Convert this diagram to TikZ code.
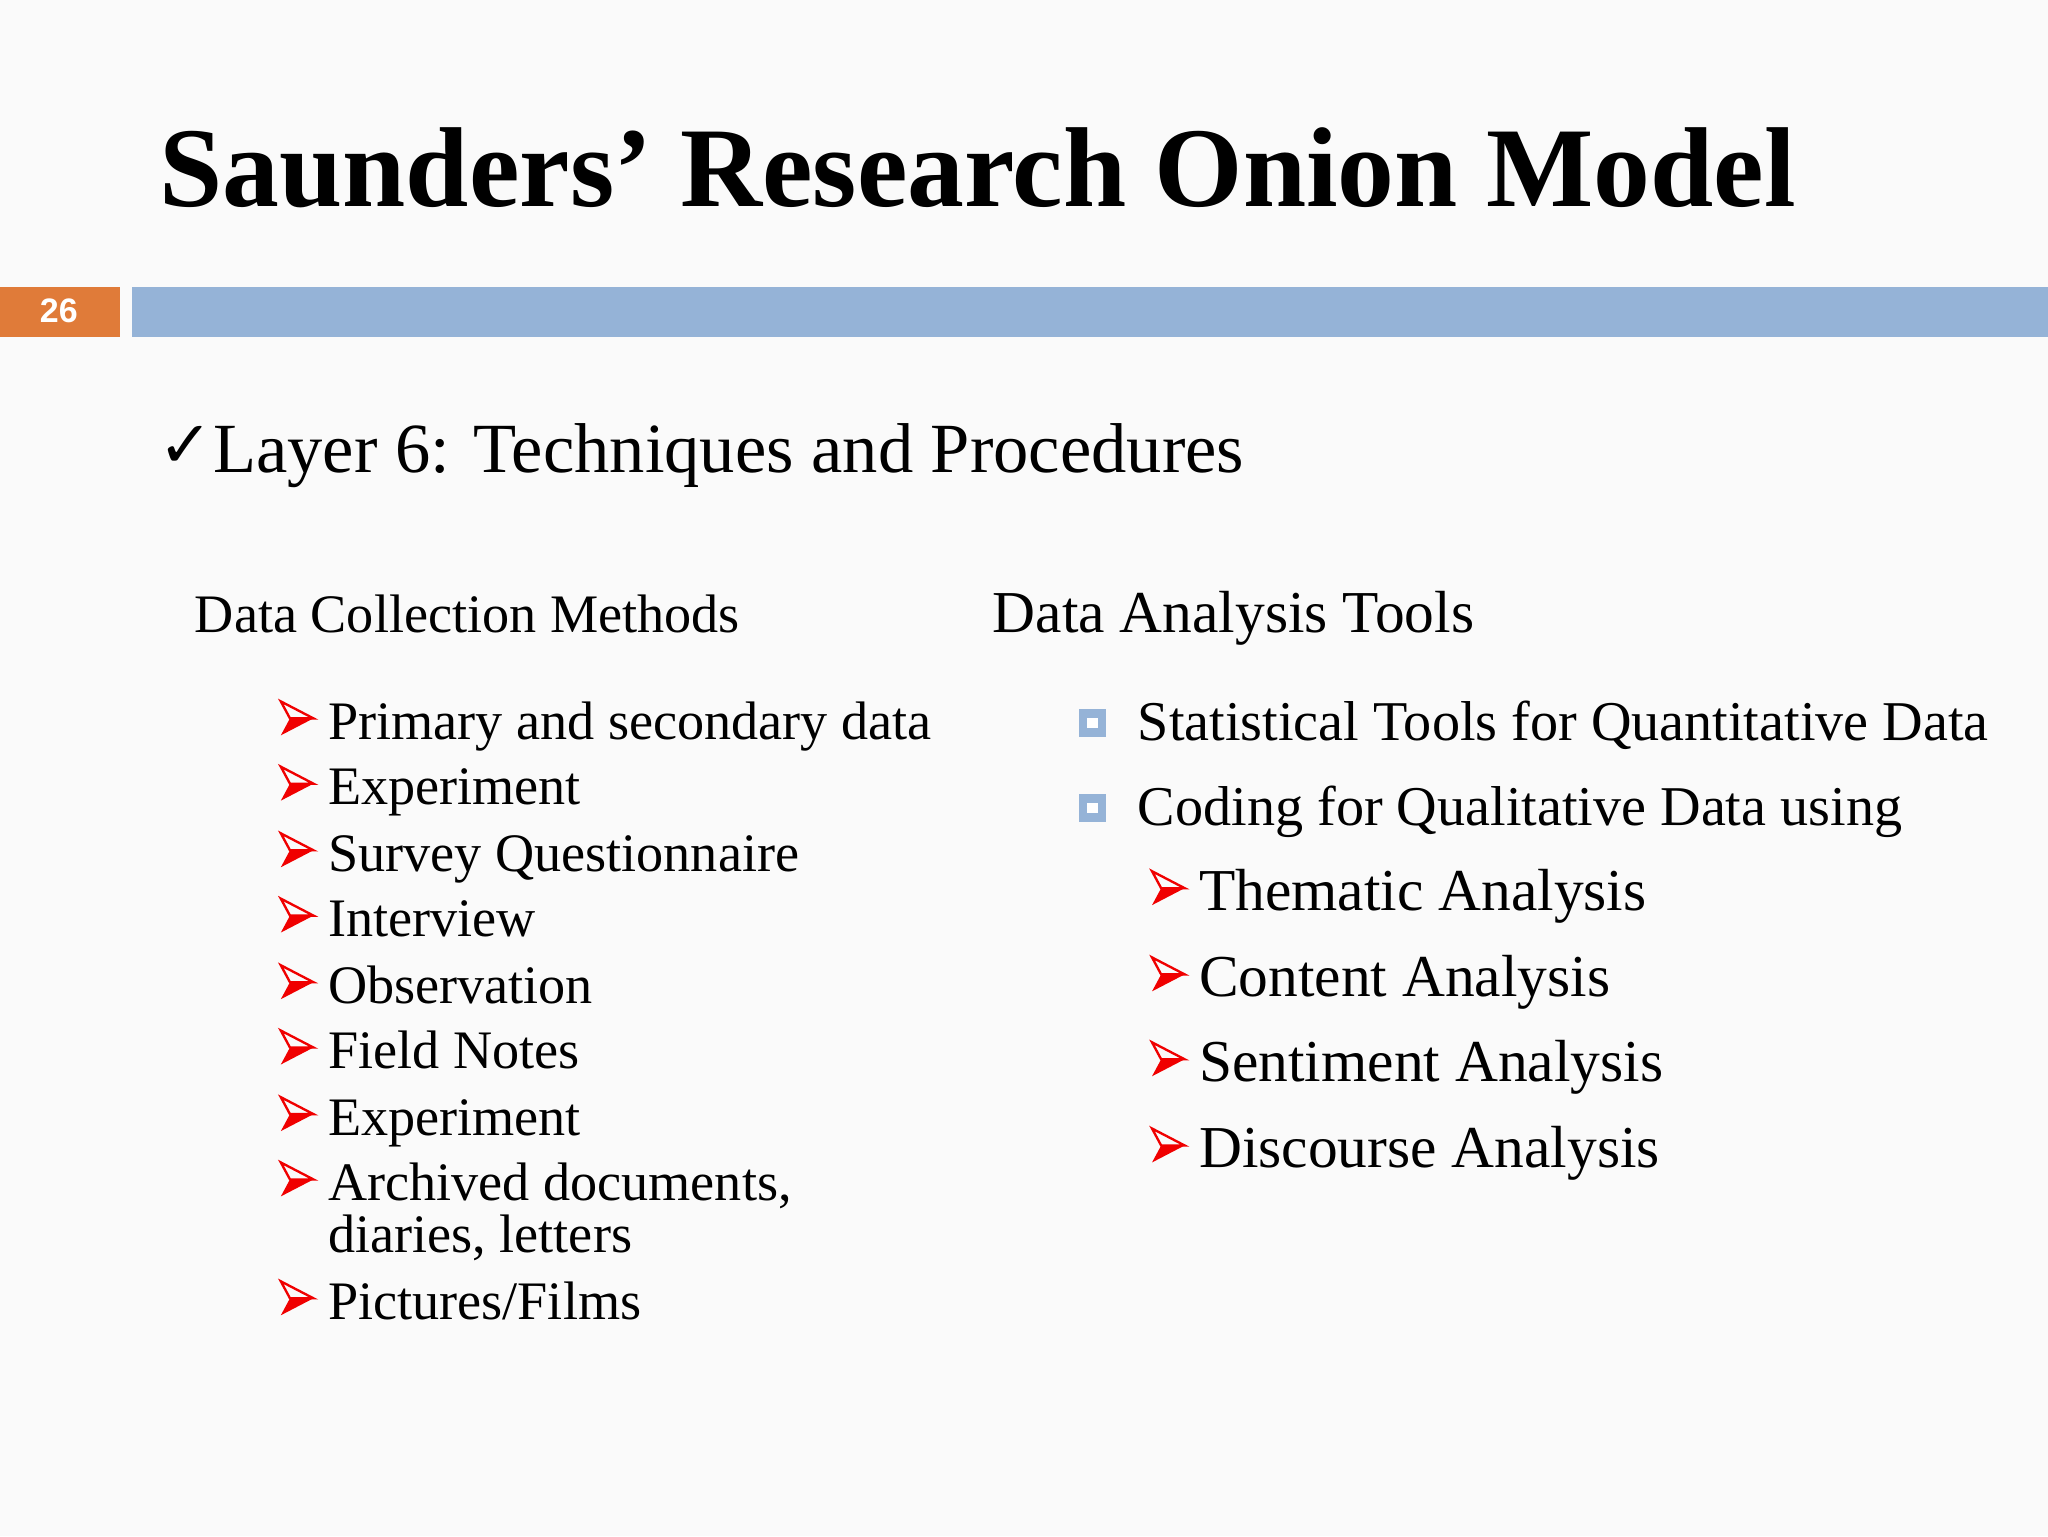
\documentclass[tikz,border=0pt]{standalone}
\usepackage{fontspec}
\setmainfont{Liberation Serif}
\newfontfamily\symf{DejaVu Sans}
\newfontfamily\arialf{Liberation Sans}
\definecolor{orng}{HTML}{E07B39}
\definecolor{bluebar}{HTML}{95B3D7}
\definecolor{arrred}{HTML}{F00000}
\begin{document}
\begin{tikzpicture}[x=1pt,y=-1pt,
  txt/.style={anchor=base west,inner sep=0pt},
  li/.style={txt,font=\fontsize{41.5}{41.5}\selectfont},
  ri/.style={txt,font=\fontsize{43}{43}\selectfont},
  si/.style={txt,font=\fontsize{45.5}{45.5}\selectfont}]
\fill[white!98!black] (0,0) rectangle (1568,1176);
\useasboundingbox (0,0) rectangle (1568,1176);
\fill[orng] (0,220) rectangle (92,258);
\fill[bluebar] (101,220) rectangle (1568,258);
\node[font=\arialf\bfseries\fontsize{26}{26}\selectfont,text=white] (num) at (45,238) {26};
\node[txt,font=\bfseries\fontsize{87}{87}\selectfont] (title) at (122,158) {Saunders’ Research Onion Model};
\node[txt,font=\bfseries\fontsize{50}{50}\selectfont] (chk) at (121,358) {\symf ✓};
\node[txt,font=\fontsize{54}{54}\selectfont] (layer) at (163,362) {Layer 6: Techniques and Procedures};
\node[txt,font=\fontsize{41.5}{41.5}\selectfont] (dcm) at (149,484) {Data Collection Methods};
\node[txt,font=\fontsize{45.5}{45.5}\selectfont] (dat) at (760,484) {Data Analysis Tools};
% arrow bullet
\newcommand\arrbul[2]{%
  \begin{scope}[shift={(#1,#2)}]
  \fill[arrred] (25,0) -- (7,0) -- (0,13) -- cycle;
  \draw[arrred,line width=1.8pt,line join=miter] (25,0) -- (0,-13) -- (7,0) -- cycle;
  \end{scope}}
\foreach \y/\t [count=\i] in {566/{Primary and secondary data},616/{Experiment},667/{Survey Questionnaire},717/{Interview},768/{Observation},818/{Field Notes},869/{Experiment},919/{Archived documents,},1010/{Pictures/Films}}{
  \arrbul{215}{\y-16}
  \node[li] (l\i) at (251,\y) {\t};
}
\node[li] (l8b) at (251,959) {diaries, letters};
% square bullets
\foreach \y in {553,618}{
  \fill[bluebar] (826,\y-10) rectangle (847,\y+11);
  \fill[white] (832.5,\y-3.5) rectangle (840.5,\y+4.5);
}
\node[ri] (r1) at (871,567) {Statistical Tools for Quantitative Data};
\node[ri] (r2) at (871,632) {Coding for Qualitative Data using};
\foreach \y/\t [count=\i] in {697/{Thematic Analysis},763/{Content Analysis},828/{Sentiment Analysis},894/{Discourse Analysis}}{
  \arrbul{882}{\y-17}
  \node[si] (s\i) at (918,\y) {\t};
}
\end{tikzpicture}
\end{document}
